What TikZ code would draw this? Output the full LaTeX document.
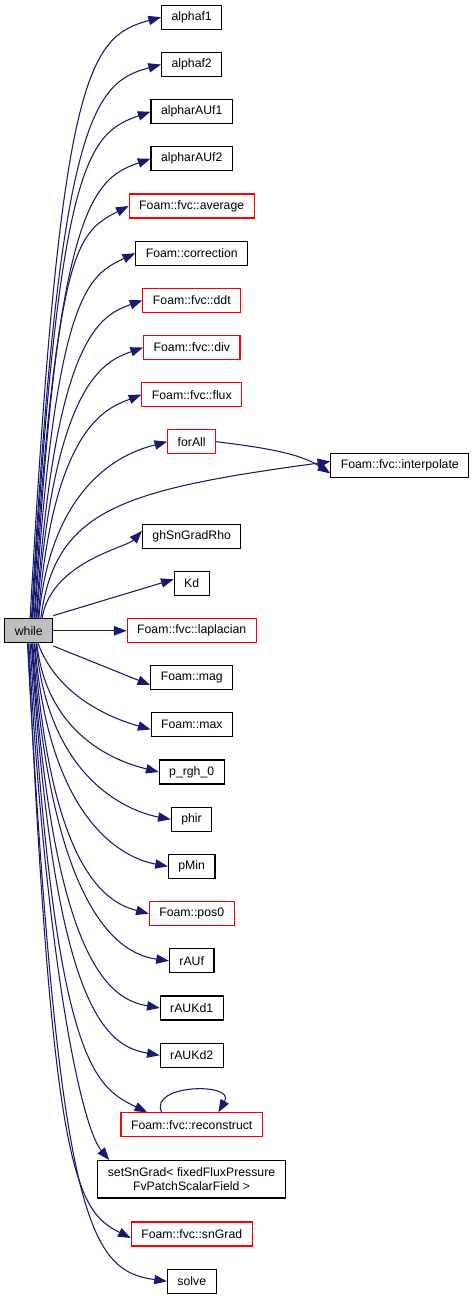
\documentclass[tikz,border=0pt]{standalone}
\usepackage{fontspec}
\setmainfont{Liberation Sans}
\usetikzlibrary{arrows.meta}
\definecolor{edgeblue}{RGB}{25,25,112}
\definecolor{nodered}{RGB}{255,0,0}
\definecolor{nodegray}{RGB}{191,191,191}
\tikzset{
  fn/.style={draw=black, line width=0.8pt, fill=white, minimum height=18pt, inner xsep=7.5pt, inner ysep=0pt, font=\fontsize{9.2}{10.5}\selectfont},
  fnred/.style={fn, draw=nodered},
  fnroot/.style={fn, fill=nodegray},
  call/.style={draw=edgeblue, line width=0.8pt, -{Triangle[length=9.5pt,width=7pt]}}
}
\begin{document}
\begin{tikzpicture}[x=0.75pt,y=0.75pt,yscale=-1]
\useasboundingbox (0,0) rectangle (474,1299);

%Root
\node[fnroot] (while) at (28.8,630.8) {while};

%Callees above
\node[fn] (alphaf1) at (191.7,17.2) {alphaf1};
\node[fn] (alphaf2) at (191.7,64.5) {alphaf2};
\node[fn] (alpharAUf1) at (191.7,111.7) {alpharAUf1};
\node[fn] (alpharAUf2) at (191.7,158.8) {alpharAUf2};
\node[fnred] (average) at (191.7,206) {Foam::fvc::average};
\node[fn] (correction) at (191.8,253.2) {Foam::correction};
\node[fnred] (ddt) at (191.8,300.3) {Foam::fvc::ddt};
\node[fnred] (div) at (191.8,347.5) {Foam::fvc::div};
\node[fnred] (flux) at (191.8,394.7) {Foam::fvc::flux};
\node[fnred] (forAll) at (191.7,441.7) {forAll};
\node[fn] (interpolate) at (399.8,465.5) {Foam::fvc::interpolate};
\node[fn] (ghSnGradRho) at (191.7,536.3) {ghSnGradRho};
\node[fn] (Kd) at (191.7,583.3) {Kd};
\node[fnred] (laplacian) at (191.7,630.8) {Foam::fvc::laplacian};

%Callees below
\node[fn] (mag) at (191.8,677.7) {Foam::mag};
\node[fn] (max) at (191.8,724.8) {Foam::max};
\node[fn] (prgh) at (191.7,772) {p\_rgh\_0};
\node[fn] (phir) at (191.5,819.3) {phir};
\node[fn] (pMin) at (191.7,866.3) {pMin};
\node[fnred] (pos0) at (191.7,913.7) {Foam::pos0};
\node[fn] (rAUf) at (191.7,960.8) {rAUf};
\node[fn] (rAUKd1) at (191.7,1008) {rAUKd1};
\node[fn] (rAUKd2) at (191.7,1055.3) {rAUKd2};
\node[fnred] (reconstruct) at (191.7,1124.8) {Foam::fvc::reconstruct};
\node[fn, minimum height=28pt, align=center] (setSnGrad) at (191.5,1179.3) {setSnGrad< fixedFluxPressure\\FvPatchScalarField >};
\node[fnred] (snGrad) at (191.7,1234) {Foam::fvc::snGrad};
\node[fn] (solve) at (191.8,1281.3) {solve};

%Calls upwards
\draw[call] ([xshift=1pt]while.north) .. controls (60.1,74.3) and (87.5,37.1) .. (alphaf1.west);
\draw[call] ([xshift=2pt]while.north) .. controls (59.2,118.3) and (92.7,83) .. (alphaf2.west);
\draw[call] ([xshift=2.5pt]while.north) .. controls (58.3,162.2) and (87.2,133.7) .. (alpharAUf1.west);
\draw[call] ([xshift=3pt]while.north) .. controls (57.4,206) and (92.4,179) .. (alpharAUf2.west);
\draw[call] ([xshift=4pt]while.north) .. controls (56.5,249.9) and (75.3,233.2) .. (average.west);
\draw[call] ([xshift=4.5pt]while.north) .. controls (55.6,293.8) and (87.5,275.7) .. (correction.west);
\draw[call] ([xshift=5.5pt]while.north) .. controls (54.7,337.6) and (99,315.9) .. (ddt.west);
\draw[call] ([xshift=6pt]while.north) .. controls (53.9,381.5) and (104.1,361.3) .. (div.west);
\draw[call] ([xshift=7pt]while.north) .. controls (53,425.4) and (107.3,407.9) .. (flux.west);
\draw[call] ([xshift=7.5pt]while.north) .. controls (52.1,469.1) and (139.5,449.1) .. (forAll.west);
\draw[call] ([xshift=9pt]while.north) .. controls (55,510) and (120,490) .. ([yshift=-3pt]interpolate.west);
\draw[call] (forAll.east) .. controls (260,447) and (300,453) .. ([yshift=6pt]interpolate.west);
\draw[call] ([xshift=10pt]while.north) .. controls (51.1,562) and (126.5,547.6) .. ([yshift=-4pt]ghSnGradRho.west);
\draw[call] ([yshift=-2pt]while.north east) -- ([yshift=-3pt]Kd.west);
\draw[call] (while.east) -- (laplacian.west);

%Calls downwards
\draw[call] ([yshift=2pt]while.south east) -- ([yshift=5.5pt]mag.west);
\draw[call] ([xshift=7pt]while.south) .. controls (55,690) and (100,715) .. ([yshift=3.5pt]max.west);
\draw[call] ([xshift=6pt]while.south) .. controls (48.2,748) and (137.5,766.5) .. (prgh.west);
\draw[call] ([xshift=5.5pt]while.south) .. controls (49.1,792) and (143.9,814.4) .. (phir.west);
\draw[call] ([xshift=4.5pt]while.south) .. controls (49.9,835.7) and (135.1,860.4) .. (pMin.west);
\draw[call] ([xshift=4pt]while.south) .. controls (50.8,879.8) and (111.2,903.6) .. (pos0.west);
\draw[call] ([xshift=3pt]while.south) .. controls (51.7,923.6) and (125.3,954.8) .. (rAUf.west);
\draw[call] ([xshift=2.5pt]while.south) .. controls (52.6,967.4) and (111.5,999.5) .. (rAUKd1.west);
\draw[call] ([xshift=2pt]while.south) .. controls (53.5,1011.4) and (106.3,1045.9) .. (rAUKd2.west);
\draw[call] ([xshift=1pt]while.south) .. controls (54.8,1064.8) and (94.7,1086.7) .. ([xshift=20pt]reconstruct.north west);
\draw[call] (while.south) .. controls (45,950) and (80,1125) .. ([xshift=9pt]setSnGrad.north west);
\draw[call] ([xshift=-0.5pt]while.south) .. controls (52,1170) and (75,1210) .. ([yshift=3pt]snGrad.west);
\draw[call] ([xshift=-1pt]while.south) .. controls (58.5,1221.6) and (88.5,1270.4) .. (solve.west);

%Recursive call
\draw[call] ([xshift=-22.5pt]reconstruct.north) .. controls (148,1084) and (236,1082) .. ([xshift=20pt]reconstruct.north);

\end{tikzpicture}
\end{document}
